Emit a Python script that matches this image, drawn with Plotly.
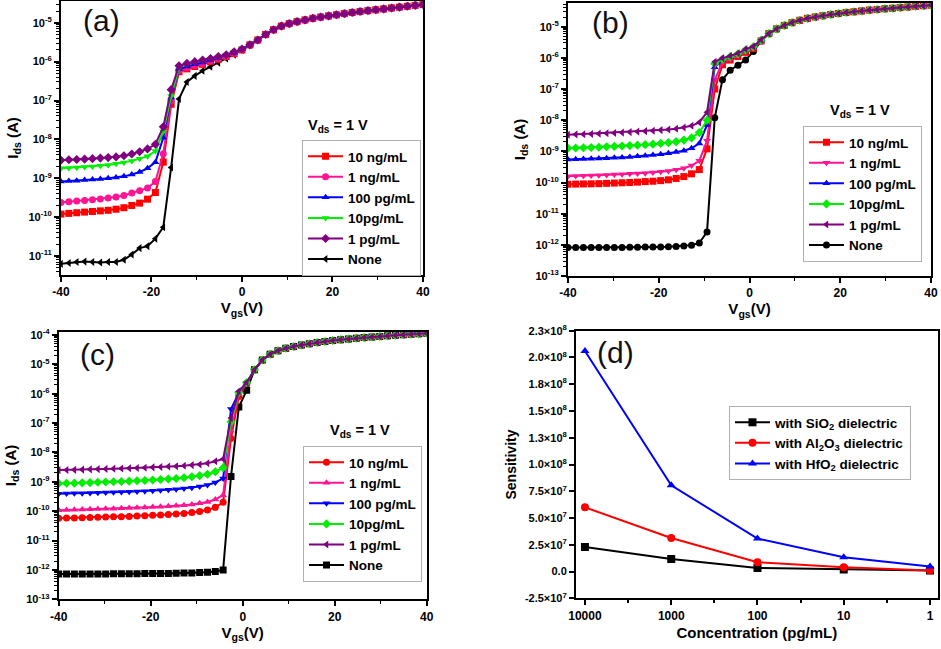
import plotly.graph_objects as go

FONT = "Liberation Sans"

# ---------------- Gate voltage sweeps ----------------
XA = [-40, -38.26, -36.52, -34.78, -33.04, -31.3, -29.57, -27.83, -26.09, -24.35, -22.61, -20.87,
      -19.13, -17.39, -15.65, -13.91, -12.17, -10.43, -8.7, -6.96, -5.22, -3.48, -1.74, 0,
      1.74, 3.48, 5.22, 6.96, 8.7, 10.43, 12.17, 13.91, 15.65, 17.39, 19.13, 20.87, 22.61, 24.35,
      26.09, 27.83, 29.57, 31.3, 33.04, 34.78, 36.52, 38.26, 40]
XB = [-40, -38.3, -36.6, -34.89, -33.19, -31.49, -29.79, -28.09, -26.38, -24.68, -22.98, -21.28,
      -19.57, -17.87, -16.17, -14.47, -12.77, -11.06, -9.36, -7.66, -5.96, -4.26, -2.55, -0.85,
      0.85, 2.55, 4.26, 5.96, 7.66, 9.36, 11.06, 12.77, 14.47, 16.17, 17.87, 19.57, 21.28, 22.98,
      24.68, 26.38, 28.09, 29.79, 31.49, 33.19, 34.89, 36.6, 38.3, 40]
VGS_TICKS = [-40, -20, 0, 20, 40]
VGS_TICKTEXT = ["-40", "-20", "0", "20", "40"]

LEGEND_NAMES = ["10 ng/mL", "1 ng/mL", "100 pg/mL", "10pg/mL", "1 pg/mL", "None"]

# ---------------- Panel (a) ----------------
SAT_A = [2.7e-6, 3.6e-6, 5.0e-6, 6.6e-6, 8.2e-6, 9.5e-6, 1.07e-5, 1.18e-5, 1.3e-5, 1.4e-5, 1.5e-5,
         1.6e-5, 1.72e-5, 1.83e-5, 1.94e-5, 2.05e-5, 2.15e-5, 2.27e-5, 2.4e-5, 2.52e-5, 2.65e-5,
         2.8e-5, 2.95e-5]
A_10NG = [1.2e-10, 1.25e-10, 1.3e-10, 1.35e-10, 1.4e-10, 1.45e-10, 1.5e-10, 1.6e-10, 1.75e-10, 2.0e-10,
          2.3e-10, 2.9e-10, 4.3e-10, 2.6e-9, 8e-8, 5.5e-7, 6.5e-7, 7.5e-7, 8.5e-7, 1.0e-6, 1.15e-6,
          1.35e-6, 1.6e-6, 2.0e-6] + SAT_A
A_1NG = [2.4e-10, 2.5e-10, 2.6e-10, 2.7e-10, 2.8e-10, 2.95e-10, 3.1e-10, 3.3e-10, 3.6e-10, 4.2e-10,
         4.8e-10, 5.6e-10, 8.3e-10, 4.3e-9, 1.0e-7, 6e-7, 7e-7, 8e-7, 9e-7, 1.05e-6, 1.2e-6, 1.4e-6,
         1.65e-6, 2.05e-6] + SAT_A
A_100PG = [8.3e-10, 8.5e-10, 8.7e-10, 9.0e-10, 9.3e-10, 9.6e-10, 1.0e-9, 1.05e-9, 1.12e-9, 1.25e-9,
           1.45e-9, 1.8e-9, 2.6e-9, 1.1e-8, 1.2e-7, 6.5e-7, 7.5e-7, 8.5e-7, 9.5e-7, 1.1e-6, 1.25e-6,
           1.45e-6, 1.7e-6, 2.1e-6] + SAT_A
A_10PG = [1.8e-9, 1.85e-9, 1.9e-9, 1.95e-9, 2.0e-9, 2.1e-9, 2.2e-9, 2.35e-9, 2.55e-9, 2.8e-9, 3.2e-9,
          3.7e-9, 5.0e-9, 1.6e-8, 1.3e-7, 7e-7, 8.5e-7, 9.5e-7, 1.05e-6, 1.15e-6, 1.3e-6, 1.5e-6,
          1.75e-6, 2.1e-6] + SAT_A
A_1PG = [2.9e-9, 3.0e-9, 3.05e-9, 3.1e-9, 3.2e-9, 3.3e-9, 3.4e-9, 3.55e-9, 3.8e-9, 4.2e-9, 4.8e-9,
         5.7e-9, 7.5e-9, 2.1e-8, 1.9e-7, 7.8e-7, 9e-7, 1.0e-6, 1.1e-6, 1.2e-6, 1.35e-6, 1.5e-6,
         1.8e-6, 2.1e-6] + SAT_A
A_NONE = [6.3e-12, 6.6e-12, 7.0e-12, 7.2e-12, 7.0e-12, 6.8e-12, 7.0e-12, 7.0e-12, 8e-12, 1.1e-11,
          1.6e-11, 1.8e-11, 2.8e-11, 5.5e-11, 1.9e-9, 1.1e-7, 3.0e-7, 4.3e-7, 5.8e-7, 7.4e-7, 9.4e-7,
          1.2e-6, 1.5e-6, 2.0e-6] + SAT_A

# ---------------- Panel (b) ----------------
SAT_B = [6e-6, 8.5e-6, 1.1e-5, 1.35e-5, 1.6e-5, 1.85e-5, 2.05e-5, 2.25e-5, 2.45e-5, 2.65e-5, 2.85e-5,
         3.0e-5, 3.2e-5, 3.4e-5, 3.55e-5, 3.75e-5, 3.9e-5, 4.1e-5, 4.3e-5, 4.5e-5, 4.7e-5, 4.9e-5]
B_10NG = [8.8e-11, 8.9e-11, 9.0e-11, 9.1e-11, 9.2e-11, 9.4e-11, 9.6e-11, 9.8e-11, 1.0e-10, 1.03e-10,
          1.07e-10, 1.1e-10, 1.15e-10, 1.22e-10, 1.35e-10, 1.55e-10, 1.9e-10, 2.6e-10, 1.2e-9, 1.0e-7,
          6e-7, 8.5e-7, 1.1e-6, 1.5e-6, 2.0e-6, 3.5e-6] + SAT_B
B_1NG = [1.6e-10, 1.62e-10, 1.65e-10, 1.68e-10, 1.7e-10, 1.75e-10, 1.8e-10, 1.85e-10, 1.9e-10, 1.95e-10,
         2.0e-10, 2.1e-10, 2.2e-10, 2.35e-10, 2.55e-10, 2.85e-10, 3.5e-10, 5.0e-10, 2.2e-9, 2e-7, 7e-7,
         9e-7, 1.15e-6, 1.6e-6, 2.1e-6, 3.5e-6] + SAT_B
B_100PG = [5.5e-10, 5.6e-10, 5.7e-10, 5.8e-10, 5.9e-10, 6.0e-10, 6.2e-10, 6.4e-10, 6.6e-10, 6.9e-10,
           7.2e-10, 7.6e-10, 8.1e-10, 8.7e-10, 9.5e-10, 1.05e-9, 1.25e-9, 1.8e-9, 7e-9, 5e-7, 8.5e-7,
           1.05e-6, 1.3e-6, 1.75e-6, 2.2e-6, 3.6e-6] + SAT_B
B_10PG = [1.25e-9, 1.28e-9, 1.3e-9, 1.33e-9, 1.36e-9, 1.4e-9, 1.44e-9, 1.48e-9, 1.53e-9, 1.58e-9,
          1.64e-9, 1.7e-9, 1.8e-9, 1.9e-9, 2.05e-9, 2.3e-9, 2.7e-9, 4.0e-9, 1.0e-8, 6.5e-7, 9e-7,
          1.1e-6, 1.35e-6, 1.8e-6, 2.25e-6, 3.7e-6] + SAT_B
B_1PG = [3.4e-9, 3.5e-9, 3.55e-9, 3.6e-9, 3.7e-9, 3.8e-9, 3.9e-9, 4.0e-9, 4.15e-9, 4.3e-9, 4.45e-9,
         4.6e-9, 4.8e-9, 5.0e-9, 5.3e-9, 5.8e-9, 6.6e-9, 8.5e-9, 1.8e-8, 7.5e-7, 9.8e-7, 1.15e-6,
         1.4e-6, 1.9e-6, 2.3e-6, 3.8e-6] + SAT_B
B_NONE = [8.2e-13, 8.2e-13, 8.2e-13, 8.2e-13, 8.3e-13, 8.3e-13, 8.3e-13, 8.3e-13, 8.4e-13, 8.4e-13,
          8.5e-13, 8.5e-13, 8.6e-13, 8.7e-13, 8.9e-13, 9.2e-13, 9.8e-13, 1.15e-12, 2.6e-12, 1.2e-8,
          2.0e-7, 4.0e-7, 5.8e-7, 8.5e-7, 1.6e-6, 3.5e-6] + SAT_B

# ---------------- Panel (c) ----------------
SAT_C = [6.5e-6, 1.4e-5, 2.2e-5, 2.9e-5, 3.5e-5, 4.0e-5, 4.5e-5, 5.0e-5, 5.5e-5, 6.0e-5, 6.5e-5,
         6.9e-5, 7.3e-5, 7.7e-5, 8.1e-5, 8.5e-5, 8.9e-5, 9.3e-5, 9.7e-5, 1.01e-4, 1.05e-4, 1.09e-4,
         1.13e-4]
C_10NG = [5.7e-11, 5.8e-11, 5.9e-11, 6.0e-11, 6.1e-11, 6.2e-11, 6.3e-11, 6.4e-11, 6.5e-11, 6.6e-11,
          6.8e-11, 7.0e-11, 7.2e-11, 7.4e-11, 7.7e-11, 8.0e-11, 8.4e-11, 9.0e-11, 9.8e-11, 1.1e-10,
          1.35e-10, 2.0e-10, 3e-8, 8e-7, 2.2e-6] + SAT_C
C_1NG = [1.08e-10, 1.1e-10, 1.12e-10, 1.14e-10, 1.16e-10, 1.18e-10, 1.2e-10, 1.22e-10, 1.25e-10,
         1.28e-10, 1.31e-10, 1.34e-10, 1.38e-10, 1.42e-10, 1.47e-10, 1.53e-10, 1.6e-10, 1.7e-10,
         1.85e-10, 2.05e-10, 2.5e-10, 3.5e-10, 5.5e-8, 1.0e-6, 2.3e-6] + SAT_C
C_100PG = [3.9e-10, 4.0e-10, 4.05e-10, 4.1e-10, 4.15e-10, 4.2e-10, 4.3e-10, 4.4e-10, 4.5e-10, 4.6e-10,
           4.7e-10, 4.8e-10, 5.0e-10, 5.2e-10, 5.4e-10, 5.6e-10, 5.9e-10, 6.3e-10, 6.9e-10, 7.8e-10,
           9.5e-10, 1.3e-9, 3e-7, 1.05e-6, 2.3e-6] + SAT_C
C_10PG = [8.8e-10, 8.9e-10, 9.0e-10, 9.2e-10, 9.4e-10, 9.6e-10, 9.8e-10, 1.0e-9, 1.02e-9, 1.05e-9,
          1.08e-9, 1.11e-9, 1.15e-9, 1.19e-9, 1.24e-9, 1.3e-9, 1.38e-9, 1.48e-9, 1.62e-9, 1.8e-9,
          2.2e-9, 3.0e-9, 1.1e-7, 1.1e-6, 2.4e-6] + SAT_C
C_1PG = [2.5e-9, 2.52e-9, 2.55e-9, 2.6e-9, 2.65e-9, 2.7e-9, 2.75e-9, 2.8e-9, 2.85e-9, 2.9e-9, 2.95e-9,
         3.0e-9, 3.1e-9, 3.2e-9, 3.3e-9, 3.4e-9, 3.5e-9, 3.7e-9, 3.9e-9, 4.3e-9, 5.0e-9, 6.0e-9,
         1.5e-7, 1.2e-6, 2.4e-6] + SAT_C
C_NONE = [7.2e-13, 7.2e-13, 7.2e-13, 7.3e-13, 7.3e-13, 7.3e-13, 7.3e-13, 7.4e-13, 7.4e-13, 7.4e-13,
          7.4e-13, 7.5e-13, 7.5e-13, 7.6e-13, 7.6e-13, 7.7e-13, 7.8e-13, 7.9e-13, 8.1e-13, 8.4e-13,
          8.8e-13, 1.0e-12, 1.5e-9, 3.5e-7, 1.3e-6] + SAT_C

# ---------------- Panel (d) ----------------
CONC = [10000, 1000, 100, 10, 1]
CONC_LABELS = ["10000", "1000", "100", "10", "1"]
SENS_SIO2 = [2.3e7, 1.18e7, 3.4e6, 1.9e6, 1.0e6]
SENS_AL2O3 = [6.0e7, 3.14e7, 8.7e6, 4.0e6, 1.0e6]
SENS_HFO2 = [2.06e8, 8.06e7, 3.08e7, 1.34e7, 4.7e6]
D_NAMES = ["with SiO<sub>2</sub> dielectric", "with Al<sub>2</sub>O<sub>3</sub> dielectric",
           "with HfO<sub>2</sub> dielectric"]
D_TICKVALS = [-2.5e7, 0, 2.5e7, 5e7, 7.5e7, 1e8, 1.25e8, 1.5e8, 1.75e8, 2e8, 2.25e8]
D_TICKTEXT = ["-2.5×10<sup>7</sup>", "0.0", "2.5×10<sup>7</sup>", "5.0×10<sup>7</sup>",
              "7.5×10<sup>7</sup>", "1.0×10<sup>8</sup>", "1.3×10<sup>8</sup>", "1.5×10<sup>8</sup>",
              "1.8×10<sup>8</sup>", "2.0×10<sup>8</sup>", "2.3×10<sup>8</sup>"]

RED, PINK, BLUE, GREEN, PURPLE, BLACK = "#ff0000", "#ff1493", "#0000ff", "#00ee00", "#800080", "#000000"

fig = go.Figure()


def add(xs, ys, name, color, symbol, ax, leg, rank, size=7):
    fig.add_trace(go.Scatter(
        x=xs, y=ys, name=name, mode="lines+markers",
        line=dict(color=color, width=2),
        marker=dict(symbol=symbol, size=size, color=color),
        xaxis="x" + ax, yaxis="y" + ax, legend=leg, legendrank=rank))


panels = [
    ("", "legend", XA, [A_10NG, A_1NG, A_100PG, A_10PG, A_1PG, A_NONE],
     ["square", "circle", "triangle-up", "triangle-down", "diamond", "triangle-left"]),
    ("2", "legend2", XB, [B_10NG, B_1NG, B_100PG, B_10PG, B_1PG, B_NONE],
     ["square", "triangle-down", "triangle-up", "diamond", "triangle-left", "circle"]),
    ("3", "legend3", XB, [C_10NG, C_1NG, C_100PG, C_10PG, C_1PG, C_NONE],
     ["circle", "triangle-up", "triangle-down", "diamond", "triangle-left", "square"]),
]
colors = [RED, PINK, BLUE, GREEN, PURPLE, BLACK]
for ax, leg, xs, series, symbols in panels:
    # black "None" first so that it sits underneath
    add(xs, series[5], LEGEND_NAMES[5], colors[5], symbols[5], ax, leg, 6)
    for i in range(5):
        add(xs, series[i], LEGEND_NAMES[i], colors[i], symbols[i], ax, leg, i + 1)

add(CONC, SENS_SIO2, D_NAMES[0], BLACK, "square", "4", "legend4", 1, 8)
add(CONC, SENS_AL2O3, D_NAMES[1], RED, "circle", "4", "legend4", 2, 8)
add(CONC, SENS_HFO2, D_NAMES[2], BLUE, "triangle-up", "4", "legend4", 3, 8)


def tfont(size):
    return dict(family=FONT, size=size, color="black", weight="bold")


def xlin(domain, anchor):
    return dict(domain=domain, anchor=anchor, range=[-40, 40], tickmode="array",
                tickvals=VGS_TICKS, ticktext=VGS_TICKTEXT, ticks="outside", ticklen=5,
                tickwidth=1.5, tickcolor="black", showline=True, linewidth=2, linecolor="black",
                mirror=True, showgrid=False, zeroline=False, tickfont=tfont(12), automargin=False,
                minor=dict(tickmode="array", tickvals=[-30, -10, 10, 30], ticks="outside",
                           ticklen=3, tickcolor="black", tickwidth=1.2, showgrid=False),
                title=dict(text="V<sub>gs</sub>(V)", font=tfont(15), standoff=4))


def ylog(domain, anchor, lo, hi, dmin, dmax):
    vals = [10.0 ** e for e in range(dmin, dmax + 1)]
    txt = ["10<sup>%d</sup>" % e for e in range(dmin, dmax + 1)]
    minor_vals = [k * 10.0 ** e for e in range(dmin - 1, dmax + 1) for k in range(2, 10)]
    return dict(domain=domain, anchor=anchor, type="log", range=[lo, hi], tickmode="array",
                tickvals=vals, ticktext=txt, ticks="outside", ticklen=5, tickwidth=1.5,
                tickcolor="black", showline=True, linewidth=2, linecolor="black", mirror=True,
                showgrid=False, zeroline=False, tickfont=tfont(11), automargin=False,
                minor=dict(tickmode="array", tickvals=minor_vals, ticks="outside", ticklen=3,
                           tickcolor="black", tickwidth=1, showgrid=False),
                title=dict(text="I<sub>ds</sub> (A)", font=tfont(15), standoff=6))


def legend(x, y):
    return dict(x=x, y=y, xanchor="left", yanchor="top", xref="paper", yref="paper",
                bgcolor="white", bordercolor="#b0b0b0", borderwidth=1, font=tfont(13.5),
                tracegroupgap=0, itemwidth=35, traceorder="normal")


fig.update_layout(
    width=941, height=649, margin=dict(l=0, r=0, t=0, b=0),
    paper_bgcolor="white", plot_bgcolor="white", font=dict(family=FONT, color="black"),
    xaxis=xlin([0.0648, 0.4495], "y"),
    yaxis=ylog([0.5763, 0.9985], "x", -11.487, -4.44, -11, -5),
    xaxis2=xlin([0.6036, 0.9894], "y2"),
    yaxis2=ylog([0.5747, 0.9954], "x2", -13, -4.24, -13, -5),
    xaxis3=xlin([0.0624, 0.4535], "y3"),
    yaxis3=ylog([0.0766, 0.4889], "x3", -13, -3.89, -13, -4),
    xaxis4=dict(domain=[0.6121, 0.9965], anchor="y4", type="log", range=[4.104, -0.089],
                tickmode="array", tickvals=CONC, ticktext=CONC_LABELS, ticks="outside",
                ticklen=5, tickwidth=1.5, tickcolor="black", showline=True, linewidth=2,
                linecolor="black", mirror=True, showgrid=False, zeroline=False,
                tickfont=tfont(12), automargin=False,
                minor=dict(tickmode="array", tickvals=[3162.3, 316.23, 31.623, 3.1623],
                           ticks="outside", ticklen=3, tickcolor="black", showgrid=False),
                title=dict(text="Concentration (pg/mL)", font=tfont(15), standoff=6)),
    yaxis4=dict(domain=[0.0781, 0.4904], anchor="x4", range=[-2.5e7, 2.25e8], tickmode="array",
                tickvals=D_TICKVALS, ticktext=D_TICKTEXT, ticks="outside", ticklen=5,
                tickwidth=1.5, tickcolor="black", showline=True, linewidth=2, linecolor="black",
                mirror=True, showgrid=False, zeroline=False, tickfont=tfont(11), automargin=False,
                title=dict(text="Sensitivity", font=tfont(14), standoff=5)),
    legend=legend(0.321, 0.7843),
    legend2=legend(0.8533, 0.8059),
    legend3=legend(0.322, 0.3128),
    legend4=legend(0.7747, 0.3744),
)

ann = []
for txt, x, y in [("(a)", 101, 21), ("(b)", 610, 23), ("(c)", 97, 354), ("(d)", 615, 352)]:
    ann.append(dict(text=txt, x=x / 941, y=1 - y / 649, xref="paper", yref="paper",
                    xanchor="center", yanchor="middle", showarrow=False,
                    font=dict(family=FONT, size=30, color="#111111")))
for x, y in [(338, 126), (860, 111), (360, 431)]:
    ann.append(dict(text="V<sub>ds</sub> = 1 V", x=x / 941, y=1 - y / 649, xref="paper",
                    yref="paper", xanchor="center", yanchor="middle", showarrow=False,
                    font=tfont(14.5)))
fig.update_layout(annotations=ann)

fig.write_html("out.html")
